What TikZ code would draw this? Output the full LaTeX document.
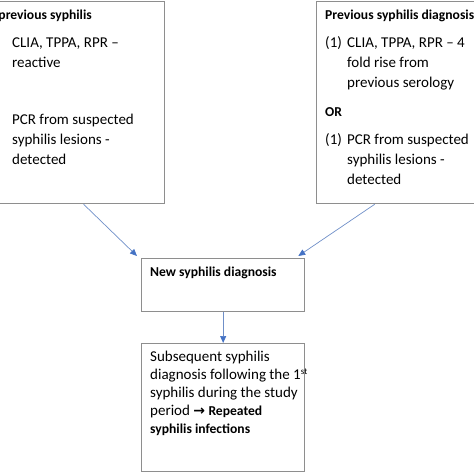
\documentclass[tikz,border=0pt]{standalone}
\usepackage{fontspec}
\setmainfont{Carlito}
\newfontfamily\arrowfont{DejaVu Sans}
\usepackage{tikz}
\usetikzlibrary{arrows.meta}

\definecolor{boxgray}{HTML}{8E8E8E}
\definecolor{linkblue}{HTML}{6F8FC8}
\definecolor{headblue}{HTML}{4472C4}

\newcommand{\heading}[1]{{\fontsize{13.6bp}{20bp}\selectfont\bfseries #1}}

\begin{document}
\begin{tikzpicture}[
	  x=1bp, y=-1bp,
	  box/.style={draw=boxgray, line width=1.3bp, fill=white, inner sep=0pt, anchor=north west},
	  txt/.style={anchor=north west, inner sep=0pt, align=left,
	    font=\fontsize{15bp}{20bp}\selectfont},
	  link/.style={draw=linkblue, line width=0.7bp,
	    -{Triangle[length=7bp,width=6bp,fill=headblue,color=headblue]}},
	]

	\useasboundingbox (0,0) rectangle (474,474);
	\clip (0,0) rectangle (474,474);

	% boxes
	\node [box, minimum width=244bp, minimum height=202bp] (lbox) at (-80,1) {};
	\node [box, minimum width=200bp, minimum height=202bp] (rbox) at (316,1) {};
	\node [box, minimum width=163bp, minimum height=53bp] (nbox) at (141,258) {};
	\node [box, minimum width=163bp, minimum height=128bp] (sbox) at (141,343) {};

	% left box (text tops = baseline - 14)
	\node [txt, anchor=base east] (lhead) at (92,19.5) {\heading{previous syphilis}};
	\node [txt] (lsero) at (12,33.5) {\strut CLIA, TPPA, RPR --\\reactive};
	\node [txt] (lpcr) at (12,110.5) {\strut PCR from suspected\\syphilis lesions -\\detected};

	% right box
	\node [txt, anchor=base west] (rhead) at (325,19.5) {\heading{Previous syphilis diagnosis}};
	\node [txt, anchor=base west] (rnum1) at (325,47.5) {(1)};
	\node [txt] (rsero) at (347,33.5) {\strut CLIA, TPPA, RPR -- 4\\fold rise from\\previous serology};
	\node [txt, anchor=base west] (ror) at (325,116.5) {\heading{OR}};
	\node [txt, anchor=base west] (rnum2) at (325,144.5) {(1)};
	\node [txt] (rpcr) at (347,130.5) {\strut PCR from suspected\\syphilis lesions -\\detected};

	% middle and bottom box
	\node [txt, anchor=base west] (ntext) at ([xshift=9bp,yshift=-18.5bp]nbox.north west) {\heading{New syphilis diagnosis}};
	\node [txt, font=\fontsize{15bp}{18bp}\selectfont] (stext) at ([xshift=9bp,yshift=-5.5bp]sbox.north west)
	  {\strut Subsequent syphilis\\diagnosis following the 1\raisebox{4.5bp}{\fontsize{9bp}{9bp}\selectfont st}\\syphilis during the study\\period {\arrowfont\bfseries\fontsize{14bp}{18bp}\selectfont →} {\fontsize{13.6bp}{18bp}\selectfont\bfseries Repeated}\\{\fontsize{13.6bp}{18bp}\selectfont\bfseries syphilis infections}};

	\draw [link] ([xshift=41bp]lbox.south) -- ([xshift=-4bp,yshift=2bp]nbox.north west);
	\draw [link] ([xshift=-42bp]rbox.south) -- ([xshift=-7bp,yshift=2bp]nbox.north east);
	\draw [link] (nbox.south) -- (sbox.north);
	\end{tikzpicture}
\end{document}
